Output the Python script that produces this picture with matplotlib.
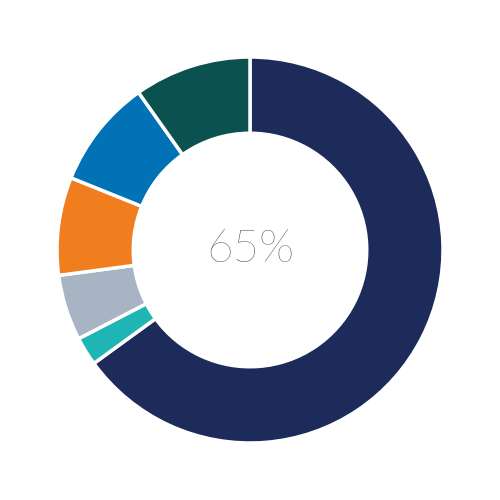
import matplotlib
matplotlib.use("Agg")
import matplotlib.pyplot as plt

labels = ["A", "B", "C", "D", "E", "F"]
values = [65, 2.4, 5.5, 8.2, 9.1, 9.8]
colors = ["#1c2b5a", "#20b5b5", "#a8b3c4", "#f07d1e", "#0072b5", "#0b5150"]
center_text = "65%"

fig = plt.figure(figsize=(5, 5), dpi=100)
ax = fig.add_axes([0, 0, 1, 1])
ax.pie(values, colors=colors, startangle=90, counterclock=False, radius=0.772,
       wedgeprops=dict(width=0.305, edgecolor="white", linewidth=2.5))
ax.text(0, 0, center_text, ha="center", va="center", fontsize=33,
        color="#3a3f48", family="Lato", fontweight="light")
ax.set_xlim(-1, 1); ax.set_ylim(-1, 1)
ax.set_aspect("equal"); ax.axis("off")
fig.savefig("out.png", dpi=100, facecolor="white")
